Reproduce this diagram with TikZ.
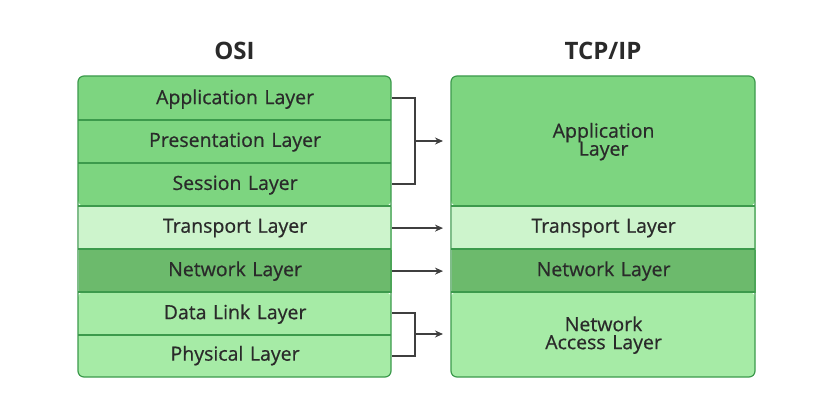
\documentclass[tikz,border=0pt]{standalone}
\usepackage{fontspec}
\setmainfont{Open Sans}
\newfontfamily\lbl[FakeBold=0.6]{Open Sans}
\usetikzlibrary{arrows.meta}
\definecolor{gA}{HTML}{7DD580}
\definecolor{gT}{HTML}{CDF4CC}
\definecolor{gN}{HTML}{6CBA6C}
\definecolor{gD}{HTML}{A6EBA6}
\definecolor{bd}{HTML}{3C9A4C}
\definecolor{tx}{HTML}{2A2A2A}
\begin{document}
\begin{tikzpicture}[x=1pt,y=-1pt,
  row/.style={draw=bd,line width=1.2pt,minimum width=313pt,minimum height=43pt,inner sep=0pt,anchor=north west,font=\lbl\fontsize{19.5}{22}\selectfont\color{tx}, text width=300pt, align=center},
  trow/.style={row,minimum width=304pt},
  con/.style={draw=tx!90,line width=1.5pt},
  arr/.style={con,-{Stealth[length=8pt,width=7pt]}}]
\useasboundingbox (0,0) rectangle (830,412);
\fill[gA,rounded corners=6pt] (78,76) rectangle (391,206);
\fill[gD,rounded corners=6pt] (78,292) rectangle (391,377);
\fill[gA,rounded corners=6pt] (451,76) rectangle (755,206);
\fill[gD,rounded corners=6pt] (451,292) rectangle (755,377);
\node[font=\bfseries\fontsize{24}{26}\selectfont\color{tx}] (osi) at (234.5,51) {OSI};
\node[font=\bfseries\fontsize{24}{26}\selectfont\color{tx}] (tcp) at (603,51) {TCP/IP};
\node[row,draw=none] (app) at (78,77) {Application Layer};
\node[row,draw=none] (pre) at (78,120) {Presentation Layer};
\node[row,draw=none] (ses) at (78,163) {Session Layer};
\node[row,fill=gT,draw=none] (tra) at (78,206) {Transport Layer};
\node[row,fill=gN,draw=none] (net) at (78,249) {Network Layer};
\node[row,draw=none] (dl) at (78,292) {Data Link Layer};
\node[row,draw=none,minimum height=42pt] (phy) at (78,334) {Physical Layer};
\draw[bd,line width=1.2pt] (78,120)--(391,120) (78,163)--(391,163) (78,206)--(391,206) (78,249)--(391,249) (78,292)--(391,292) (78,335)--(391,335);
\draw[bd,line width=1.2pt,rounded corners=6pt] (78,76) rectangle (391,377);
\node[trow,draw=none,minimum height=130pt] (tapp) at (451,76) {Application\\[-4pt]Layer};
\node[trow,fill=gT,draw=none] (ttra) at (451,206) {Transport Layer};
\node[trow,fill=gN,draw=none] (tnet) at (451,249) {Network Layer};
\node[trow,draw=none,minimum height=85pt] (tna) at (451,292) {Network\\[-4pt]Access Layer};
\draw[bd,line width=1.2pt] (451,206)--(755,206) (451,249)--(755,249) (451,292)--(755,292);
\draw[bd,line width=1.2pt,rounded corners=6pt] (451,76) rectangle (755,377);
\coordinate (b1) at (415,141);
\coordinate (b2) at (415,334);
\draw[con] (app.east|-0,98) -| (b1) |- (ses.east|-0,184);
\draw[arr] (b1) -- ([xshift=-8pt]tapp.west|-b1);
\draw[arr] (tra.east) -- ([xshift=-8pt]ttra.west);
\draw[arr] (net.east) -- ([xshift=-8pt]tnet.west);
\draw[con] (dl.east|-0,313) -| (b2) |- (phy.east|-0,356);
\draw[arr] (b2) -- ([xshift=-8pt]tna.west|-b2);
\end{tikzpicture}
\end{document}
